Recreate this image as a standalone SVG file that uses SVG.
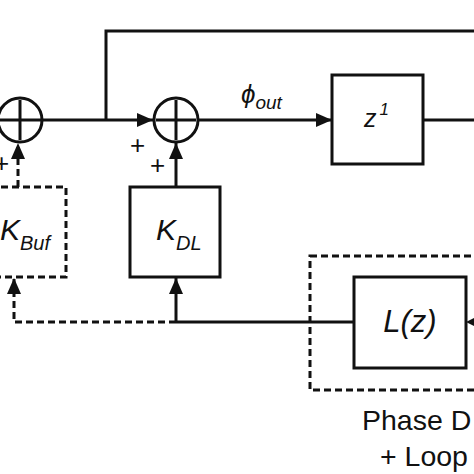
<svg xmlns="http://www.w3.org/2000/svg" width="474" height="474" viewBox="0 0 474 474">
<style>
.ln{fill:none;stroke:#111;stroke-width:3}
.ds{fill:none;stroke:#111;stroke-width:3;stroke-dasharray:7,4}
.bx{fill:#fff;stroke:#111;stroke-width:3}
.t{font-family:"Liberation Sans",Arial,sans-serif;fill:#111}
.i{font-style:italic}
.pl{font-family:"Liberation Sans",Arial,sans-serif;fill:#111;font-size:26px}
</style>
<defs>
<marker id="ah" markerWidth="16" markerHeight="14" refX="16" refY="7" orient="auto" markerUnits="userSpaceOnUse">
<path d="M0,0 L16,7 L0,14 Z" fill="#111"/>
</marker>
</defs>
<g id="connectors">
<line class="ln" x1="42" y1="120" x2="153" y2="120" marker-end="url(#ah)"/>
<polyline class="ln" points="106,120 106,31 474,31"/>
<line class="ln" x1="198" y1="120" x2="332" y2="120" marker-end="url(#ah)"/>
<line class="ln" x1="423" y1="120" x2="474" y2="120"/>
<line class="ln" x1="176" y1="187" x2="176" y2="143" marker-end="url(#ah)"/>
<line class="ds" x1="18" y1="187" x2="18" y2="143" marker-end="url(#ah)"/>
<line class="ln" x1="354" y1="322" x2="176" y2="322"/>
<line class="ln" x1="176" y1="322" x2="176" y2="278" marker-end="url(#ah)"/>
<polyline class="ds" points="176,322 14,322 14,278" marker-end="url(#ah)"/>
<path d="M466,322 L476,317 L476,327 Z" fill="#111"/>
</g>
<g id="sum1">
<circle class="ln" cx="20" cy="120" r="22"/>
<line class="ln" x1="-2" y1="120" x2="42" y2="120"/>
<line class="ln" x1="20" y1="100" x2="20" y2="140"/>
<text class="pl" x="-6" y="172">+</text>
</g>
<g id="sum2">
<circle class="ln" cx="176" cy="120" r="22"/>
<line class="ln" x1="156" y1="120" x2="196" y2="120"/>
<line class="ln" x1="176" y1="100" x2="176" y2="140"/>
<text class="pl" x="130" y="154">+</text>
<text class="pl" x="150" y="174">+</text>
</g>
<g id="phi-out">
<text class="t i" x="241" y="103" font-size="26">ϕ<tspan font-size="19" dy="6">out</tspan></text>
</g>
<g id="zinv">
<rect class="bx" x="332" y="75" width="91" height="89"/>
<text class="t i" x="364" y="127" font-size="25">z<tspan font-size="17" dy="-12" dx="3">1</tspan></text>
</g>
<g id="kbuf">
<rect class="ds" x="-10" y="187" width="76" height="90"/>
<text class="t i" x="0" y="240" font-size="30">K<tspan font-size="20" dy="10">Buf</tspan></text>
</g>
<g id="kdl">
<rect class="bx" x="130" y="187" width="90" height="90"/>
<text class="t i" x="156" y="240" font-size="30">K<tspan font-size="20" dy="10">DL</tspan></text>
</g>
<g id="pd-box">
<rect class="ds" x="310" y="256" width="180" height="134"/>
</g>
<g id="lz">
<rect class="bx" x="354" y="277" width="112" height="91"/>
<text class="t i" x="410" y="332" font-size="31" text-anchor="middle">L(z)</text>
</g>
<g id="pd-label">
<text class="t" x="362" y="430" font-size="28.5">Phase D</text>
<text class="t" x="380" y="466" font-size="28.5">+ Loop</text>
</g>
</svg>
